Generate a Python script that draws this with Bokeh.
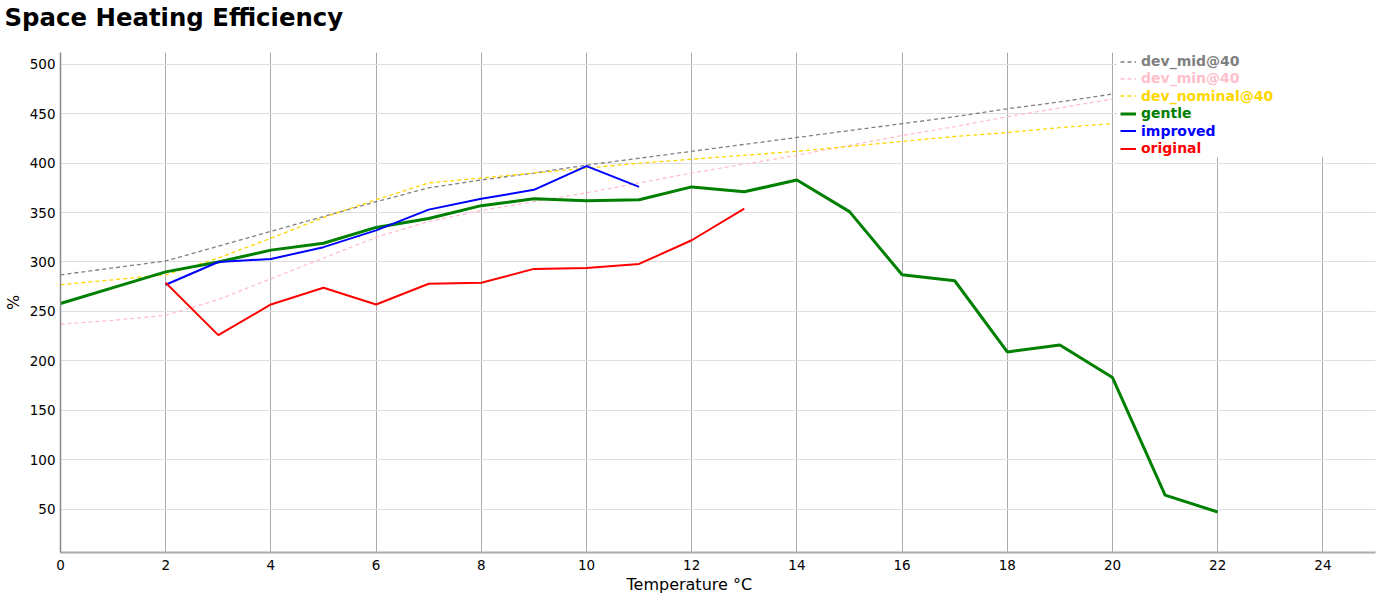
from bokeh.plotting import figure
from bokeh.models import Legend, LegendItem, BoxAnnotation, FixedTicker, Range1d, Title
from bokeh.embed import file_html
from bokeh.resources import INLINE

# ---- data ----
temps_dev = list(range(0, 21))
dev_mid = [287, 294, 301, 316, 331, 346, 361, 375, 383, 390, 398, 405, 412, 419, 426, 433, 440, 447, 455, 462, 470]
dev_min = [237, 241, 246, 262, 283, 304, 325, 341, 352, 361, 370, 380, 390, 399, 408, 418, 428, 437, 447, 456, 465]
dev_nominal = [277, 282, 287, 304, 324, 345, 363, 380, 385, 390, 395, 400, 404, 408, 412, 417, 422, 427, 431, 436, 440]

temps_gentle = list(range(0, 23))
gentle = [258, 274, 290, 300, 312, 319, 335, 344, 357, 364, 362, 363, 376, 371, 383, 351, 287, 281, 209, 216, 183, 64, 47]

temps_improved = list(range(2, 12))
improved = [277, 300, 303, 315, 332, 353, 364, 373, 397, 376]

temps_original = list(range(2, 14))
original = [279, 226, 257, 274, 257, 278, 279, 293, 294, 298, 322, 354]

x_ticks = list(range(0, 25, 2))
y_ticks = list(range(50, 501, 50))

FONT = "DejaVu Sans"

p = figure(width=1380, height=600, output_backend="svg", toolbar_location=None,
           x_range=Range1d(0, 25), y_range=Range1d(6, 512),
           title="Space Heating Efficiency",
           y_axis_label="%",
           min_border_left=60, min_border_right=5, min_border_top=52, min_border_bottom=48)

p.title.text_font = FONT
p.title.text_font_size = "24.4px"
p.title.text_font_style = "bold"
p.title.text_color = "black"
p.title.offset = -56
p.title.standoff = 0

# blank spacer between title and plot frame
p.add_layout(Title(text=" ", standoff=18, text_font_size="1px"), "above")

p.outline_line_color = None
p.background_fill_color = "white"

for ax in (p.xaxis[0], p.yaxis[0]):
    ax.major_label_text_font = FONT
    ax.major_label_text_font_size = "13.5px"
    ax.major_label_text_color = "black"
    ax.axis_label_text_font = FONT
    ax.axis_label_text_font_size = "16px"
    ax.axis_label_text_font_style = "normal"
    ax.axis_label_text_color = "black"
    ax.minor_tick_line_color = None
    ax.major_tick_in = 0
    ax.major_tick_out = 1
    ax.major_tick_line_color = "#bbbbbb"

p.xaxis.ticker = FixedTicker(ticks=x_ticks)
p.yaxis.ticker = FixedTicker(ticks=y_ticks)
p.xaxis.axis_line_color = "#aaaaaa"
p.xaxis.axis_line_width = 2
p.yaxis.axis_line_color = "#888888"
p.yaxis.axis_line_width = 1.5
p.xaxis.major_label_standoff = 6
p.yaxis.major_label_standoff = 4
p.yaxis.axis_label_standoff = 4

# x-axis label (placed as a below title so it can sit where the reference has it)
p.add_layout(Title(text="Temperature °C", align="left", offset=566,
                   text_font=FONT, text_font_size="16px", text_font_style="normal",
                   text_color="black", standoff=0), "below")

p.xgrid.grid_line_color = "#aaaaaa"
p.xgrid.grid_line_width = 1
p.ygrid.grid_line_color = "#dddddd"
p.ygrid.grid_line_width = 1

# legend background box (covers grid in legend area)
p.add_layout(BoxAnnotation(left=20.09, bottom=406, fill_color="white", fill_alpha=1.0,
                           line_alpha=0, level="underlay"))

series = [
    ("dev_mid@40", temps_dev, dev_mid, "gray", 1.3, "4 3"),
    ("dev_min@40", temps_dev, dev_min, "pink", 1.3, "4 3"),
    ("dev_nominal@40", temps_dev, dev_nominal, "gold", 1.3, "4 3"),
    ("gentle", temps_gentle, gentle, "green", 3, "solid"),
    ("improved", temps_improved, improved, "blue", 2, "solid"),
    ("original", temps_original, original, "red", 2, "solid"),
]

renderers = []
for name, xs, ys, color, lw, dash in series:
    r = p.line(xs, ys, line_color=color, line_width=lw, line_dash=dash)
    renderers.append((name, r, color))

for i, (name, r, color) in enumerate(renderers):
    lg = Legend(items=[LegendItem(label=name, renderers=[r])],
                location=(1060, 482.5 - 17.4 * i),
                padding=0, margin=0, spacing=0,
                glyph_width=16, glyph_height=17, label_height=17,
                label_width=234, label_standoff=5,
                border_line_alpha=0, background_fill_alpha=0,
                label_text_font=FONT, label_text_font_size="14px",
                label_text_font_style="bold", label_text_color=color,
                label_text_baseline="middle")
    p.add_layout(lg)

open("out.html", "w").write(file_html(p, INLINE))
